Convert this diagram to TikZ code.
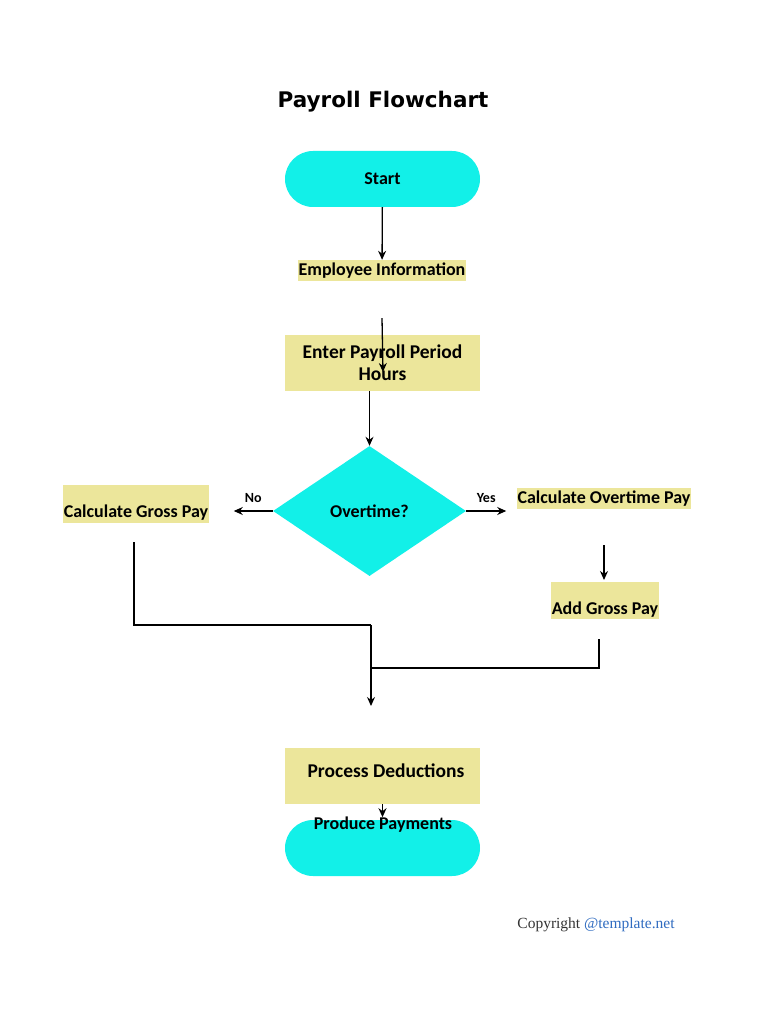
\documentclass[tikz,border=0pt]{standalone}
\usepackage{fontspec}
\setmainfont{Carlito}
\newfontfamily\titlefont{DejaVu Sans}
\newfontfamily\copyfont{Liberation Serif}
\usetikzlibrary{shapes,arrows,arrows.meta,positioning}
\definecolor{pillcyan}{HTML}{12F0E8}
\definecolor{boxkhaki}{HTML}{ECE69B}
\definecolor{linkblue}{HTML}{2F6BC0}
\definecolor{copygray}{HTML}{333333}
\tikzset{
  pill/.style={fill=pillcyan, rounded corners=28pt, minimum width=195pt, minimum height=56pt, inner sep=0pt},
  box/.style={fill=boxkhaki, inner sep=0pt, align=center},
  decision/.style={diamond, fill=pillcyan, aspect=1.48, minimum width=193pt, minimum height=130pt, inner sep=0pt},
  txt/.style={font=\fontsize{18}{21}\selectfont\bfseries, text=black},
  big/.style={font=\fontsize{19.5}{22}\selectfont\bfseries},
  small/.style={font=\fontsize{14}{16}\selectfont\bfseries},
}
\tikzstyle{arrow} = [line width=1.3pt,->,>={Stealth[length=9pt,width=8pt]}]
\tikzstyle{link} = [line width=1.3pt]

\begin{document}
\begin{tikzpicture}[x=1pt,y=-1pt,txt]
  \useasboundingbox (0,0) rectangle (768,1024);

  \node[font=\titlefont\bfseries\fontsize{21.5}{26}\selectfont] (title) at (383,102) {Payroll Flowchart};

  \node[pill] (start) at (382.5,179) {Start};
  \node[box, minimum width=168pt, minimum height=21pt] (empinfo) at (382,270.5) {Employee Information};
  \node[box, big, minimum width=195pt, minimum height=56pt] (period) at (382.5,363) {Enter Payroll Period\\Hours};
  \coordinate[below=37pt of empinfo.south] (periodi1);
  \coordinate (periodi2) at (383,372);
  \draw[arrow] (start) -- (empinfo);
  \draw[arrow] (periodi1) -- (periodi2);

  \node[decision] (overtime) at (369.5,511) {Overtime?};
  \draw[arrow] (period.south -| overtime.north) -- (overtime.north);

  \node[box, minimum width=146pt, minimum height=38pt] (gross) at (136,504) {};
  \node (grosst) at (136,513) {Calculate Gross Pay};
  \coordinate[left=39pt of overtime.west] (noo1);
  \draw[arrow] (overtime.west) -- (noo1) node[small,midway,above=4pt] {No};

  \node[box, minimum width=174pt, minimum height=21pt] (otpay) at (604,498.5) {Calculate Overtime Pay};
  \coordinate[right=40pt of overtime.east] (yeso1);
  \draw[arrow] (overtime.east) -- (yeso1) node[small,midway,above=4pt] {Yes};

  \node[box, minimum width=108pt, minimum height=37pt] (addgross) at (605,600.5) {};
  \node (addgrosst) at (605,610) {Add Gross Pay};
  \coordinate (addi1) at (604,545);
  \coordinate (addi2) at (604,580);
  \draw[arrow] (addi1) -- (addi2);

  \coordinate (mergev1) at (134,542);
  \coordinate (mergev2) at (371,625);
  \coordinate (mergev3) at (371,668);
  \coordinate (mergeo1) at (371,706);
  \coordinate (mergev4) at (599,639);
  \draw[link] (mergev1) |- (mergev2);
  \draw[arrow] (mergev2) -- (mergeo1);
  \draw[link] (mergev4) |- (mergev3);

  \node[box, minimum width=195pt, minimum height=56pt] (deduct) at (382.5,776) {};
  \node[big] (deductt) at (386,771) {Process Deductions};
  \node[pill] (produce) at (382.5,848) {};
  \coordinate[below=13pt of deduct.south] (producei1);
  \draw[arrow] (deduct.south) -- (producei1);
  \node (producet) at (383,825) {Produce Payments};

  \node[font=\copyfont\fontsize{15.5}{18}\selectfont, text=copygray] (copy) at (596,925) {Copyright \textcolor{linkblue}{@template.net}};

\end{tikzpicture}
\end{document}
